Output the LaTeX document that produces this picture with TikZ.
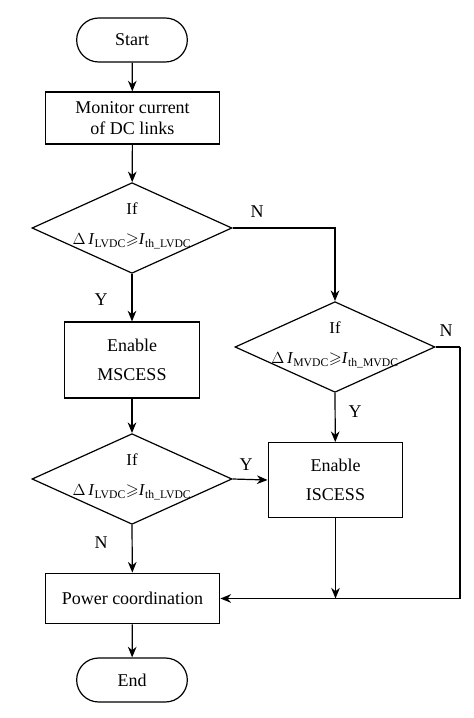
\documentclass[tikz,border=0pt]{standalone}
\usepackage{amssymb}
\usepackage{fontspec}
\setmainfont{Liberation Serif}
\usetikzlibrary{shapes.geometric,arrows.meta}
\newcommand{\condLV}{$\Delta$\,\textit{I}\textsubscript{LVDC}$\geqslant$\textit{I}\textsubscript{th\_LVDC}}
\newcommand{\condMV}{$\Delta$\,\textit{I}\textsubscript{MVDC}$\geqslant$\textit{I}\textsubscript{th\_MVDC}}
\begin{document}
\begin{tikzpicture}[x=0.75pt,y=-0.75pt,
  every node/.style={font=\fontsize{13.5}{15.5}\selectfont},
  term/.style={draw,line width=0.9pt,rectangle,rounded corners=16.5pt,minimum width=83pt,minimum height=33pt,inner sep=0pt},
  proc/.style={draw,line width=0.9pt,rectangle,align=center,inner sep=0pt},
  dec/.style={draw,line width=0.9pt,diamond,inner sep=0pt,minimum width=150pt,minimum height=68pt},
  dtext/.style={align=center,inner sep=0pt,font=\fontsize{12.5}{14.5}\selectfont},
  lbl/.style={font=\fontsize{13.5}{15.5}\selectfont},
  arr/.style={line width=0.9pt,-{Stealth[length=8pt,width=6.5pt]}},
  ln/.style={line width=0.9pt}]
\useasboundingbox (0,0) rectangle (474,718);
\node[term] (start) at (132,40) {Start};
\node[proc,minimum width=131pt,minimum height=39pt] (mon) at (132.5,118) {Monitor current\\of DC links};
\node[dec] (d1) at (132,228) {};
\node[dtext] (t1) at (132,226) {If\\[8pt]\condLV};
\node[proc,minimum width=101pt,minimum height=57pt] (msc) at (132,360) {Enable\\[6pt]MSCESS};
\node[dec] (d2) at (335,347) {};
\node[dtext] (t2) at (335,345) {If\\[8pt]\condMV};
\node[dec] (d3) at (132,479) {};
\node[dtext] (t3) at (132,477) {If\\[8pt]\condLV};
\node[proc,minimum width=101pt,minimum height=56pt] (isc) at (335.5,480) {Enable\\[6pt]ISCESS};
\node[proc,minimum width=131pt,minimum height=38pt] (pow) at (132.5,598.5) {Power coordination};
\node[term] (end) at (132,680) {End};
\coordinate (c1) at (460,347);
\coordinate (j) at (335.5,598.5);

\draw[arr] (start) -- (mon);
\draw[arr] (mon) -- (d1);
\draw[arr] (d1) -- (msc);
\draw[arr] (d1.east) -| (d2.north);
\draw[arr] (d2.south) -- (isc);
\draw[arr] (msc) -- (d3);
\draw[arr] (d3.east) -- (isc.west);
\draw[arr] (d3.south) -- (pow);
\draw[ln] (d2.east) -- (c1);
\draw[arr] (c1) |- (pow.east);
\draw[arr] (isc.south) -- (j);
\draw[arr] (pow) -- (end);

\node[lbl] (n1) at (257,212) {N};
\node[lbl] (n2) at (446,331) {N};
\node[lbl] (y1) at (101,300) {Y};
\node[lbl] (y2) at (355,412) {Y};
\node[lbl] (y3) at (246,465) {Y};
\node[lbl] (n3) at (101,543) {N};
\end{tikzpicture}
\end{document}
